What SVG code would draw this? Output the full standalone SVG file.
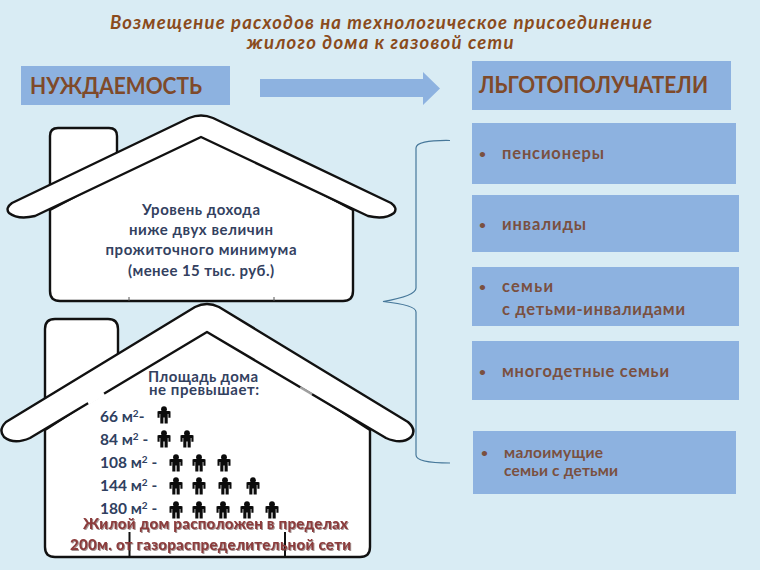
<svg xmlns="http://www.w3.org/2000/svg" width="760" height="570" viewBox="0 0 760 570">
<style>
text{font-family:Lato,"Open Sans","Noto Sans",sans-serif}
.title{font-size:18.5px;font-weight:700;font-style:italic;fill:#8a4b1c;text-anchor:middle}
.head{font-size:22px;font-weight:700;fill:#7f4a2a}
.box{fill:#8db2e0}
.item{font-size:16.500px;font-weight:700;fill:#7a5040}
.bullet{font-size:12px;font-weight:700;fill:#7a5040}
.small{font-size:15.5px}
.dark{font-size:15px;font-weight:700;fill:#33415f;text-anchor:middle}
.area{font-size:15.5px;font-weight:700;fill:#2f4060}
.red{font-size:15px;font-weight:900;fill:#8c3c3c;text-anchor:middle;filter:drop-shadow(1px 1px 0.6px rgba(90,60,60,.55))}
.house{fill:#fff;stroke:#111;stroke-width:2.4;stroke-linejoin:round}
.conn{fill:none;stroke:#47789a;stroke-width:1.2}
</style>
<defs>
<g id="person">
<circle cx="0" cy="-5.8" r="2.9" fill="#0b0b0b"/>
<path d="M-6.5 -3.4 Q-6.5 -3.9 -5 -3.9 H5 Q6.5 -3.9 6.5 -3.4 L6.5 2.8 H4.4 V-1 H3.7 V8.4 H0.6 V2.6 H-0.6 V8.4 H-3.7 V-1 H-4.4 V2.8 H-6.5 Z" fill="#0b0b0b"/>
</g>
</defs>
<rect width="760" height="570" fill="#d9ecf4"/>
<g id="title">
<text class="title" x="381" y="29" textLength="542" lengthAdjust="spacing">Возмещение расходов на технологическое присоединение</text>
<text class="title" x="380" y="49" textLength="267" lengthAdjust="spacing">жилого дома к газовой сети</text>
</g>
<g id="need">
<rect class="box" x="21" y="66" width="209" height="39"/>
<text class="head" x="30" y="94" textLength="172" lengthAdjust="spacingAndGlyphs">НУЖДАЕМОСТЬ</text>
</g>
<g id="beneficiaries">
<rect class="box" x="472" y="61" width="259" height="49"/>
<text class="head" x="479" y="93" textLength="229" lengthAdjust="spacingAndGlyphs">ЛЬГОТОПОЛУЧАТЕЛИ</text>
</g>
<g id="connectors">
<path id="big-arrow" class="box" d="M260 79H423V72L440 88.500L423 105V97H260Z"/>
<path id="brace" class="conn" d="M450 140.500Q416 140 416 148V288Q416 296 383 301.500Q416 305 416 312V455Q416 463 450 463"/>
</g>
<g id="house-income">
<path class="house" d="M50 190V136Q50 128 58 128H109Q117 128 117 136V170Z"/>
<path class="house" d="M50 210V291Q50 301 60 301H343Q353 301 353 291V210L201 130Z"/>
<path d="M129 297V301M274 297V301" stroke="#555" stroke-width="1" fill="none"/>
<path class="house" d="M189 118Q201 113 213 118L391 203Q398 208 394 213Q385 220 368 216L201 137L35 216Q18 220 9 213Q5 208 12 203Z"/>
<text class="dark" x="201" y="215" textLength="118" lengthAdjust="spacing">Уровень дохода</text>
<text class="dark" x="201" y="235" textLength="144" lengthAdjust="spacing">ниже двух величин</text>
<text class="dark" x="201" y="255" textLength="191" lengthAdjust="spacing">прожиточного минимума</text>
<text class="dark" x="201" y="276" textLength="146" lengthAdjust="spacing">(менее 15 тыс. руб.)</text>
</g>
<g id="house-area">
<path class="house" d="M45 410V329Q45 319 55 319H108Q118 319 118 329V360Z"/>
<path class="house" d="M45 430V547Q45 557 55 557H360Q370 557 370 547V430L207 325Z"/>
<path d="M129.500 532V557M285 532V557" stroke="#111" stroke-width="2" fill="none"/>
<path class="house" d="M195 307Q207 301 219 307L408 422Q417 430 411 437Q402 445 386 438L207 332L30 438Q14 445 4 437Q-2 430 6 422Z"/>
<path d="M88 403L104 393.500" stroke="#fff" stroke-width="4" fill="none"/>
<path d="M300 387.500L312 394.500" stroke="#fff" stroke-width="3" stroke-opacity=".6" fill="none"/>
<text class="dark" x="203" y="382" textLength="110" lengthAdjust="spacing">Площадь дома</text>
<text class="dark" x="204" y="395" textLength="110" lengthAdjust="spacing">не превышает:</text>
<text class="area" x="100" y="422">66 м<tspan font-size="10" dy="-5">2</tspan><tspan dy="5">-</tspan></text>
<text class="area" x="100" y="445">84 м<tspan font-size="10" dy="-5">2</tspan><tspan dy="5"> -</tspan></text>
<text class="area" x="100" y="468">108 м<tspan font-size="10" dy="-5">2</tspan><tspan dy="5"> -</tspan></text>
<text class="area" x="100" y="491">144 м<tspan font-size="10" dy="-5">2</tspan><tspan dy="5"> -</tspan></text>
<text class="area" x="100" y="514">180 м<tspan font-size="10" dy="-5">2</tspan><tspan dy="5"> -</tspan></text>
<use href="#person" x="164" y="415"/>
<use href="#person" x="164" y="439"/><use href="#person" x="187" y="439"/>
<use href="#person" x="176" y="463"/><use href="#person" x="199" y="463"/><use href="#person" x="224" y="463"/>
<use href="#person" x="176" y="486"/><use href="#person" x="199" y="486"/><use href="#person" x="225" y="486"/><use href="#person" x="253" y="486"/>
<use href="#person" x="176" y="510"/><use href="#person" x="199" y="510"/><use href="#person" x="223" y="510"/><use href="#person" x="247" y="510"/><use href="#person" x="272" y="510"/>
<text class="red" x="215.500" y="529" textLength="265" lengthAdjust="spacing">Жилой дом расположен в пределах</text>
<text class="red" x="210.500" y="550" textLength="281" lengthAdjust="spacing">200м. от газораспределительной сети</text>
</g>
<g id="b1">
<rect class="box" x="472" y="123" width="264" height="61"/>
<text class="bullet" x="479" y="158">•</text><text class="item" x="502" y="159" textLength="102" lengthAdjust="spacing">пенсионеры</text>
</g>
<g id="b2">
<rect class="box" x="472" y="195" width="267" height="57"/>
<text class="bullet" x="479" y="229">•</text><text class="item" x="502" y="230" textLength="84" lengthAdjust="spacing">инвалиды</text>
</g>
<g id="b3">
<rect class="box" x="472" y="267" width="267" height="59"/>
<text class="bullet" x="479" y="291">•</text><text class="item" x="502" y="292" textLength="51" lengthAdjust="spacing">семьи</text>
<text class="item" x="502" y="315" textLength="183" lengthAdjust="spacing">с детьми-инвалидами</text>
</g>
<g id="b4">
<rect class="box" x="472" y="341" width="267" height="59"/>
<text class="bullet" x="479" y="376">•</text><text class="item" x="502" y="377" textLength="167" lengthAdjust="spacing">многодетные семьи</text>
</g>
<g id="b5">
<rect class="box" x="473" y="431" width="263" height="63"/>
<text class="bullet" x="481" y="457">•</text><text class="item small" x="504" y="458" textLength="99" lengthAdjust="spacing">малоимущие</text>
<text class="item small" x="504" y="476" textLength="114" lengthAdjust="spacing">семьи с детьми</text>
</g>
</svg>
